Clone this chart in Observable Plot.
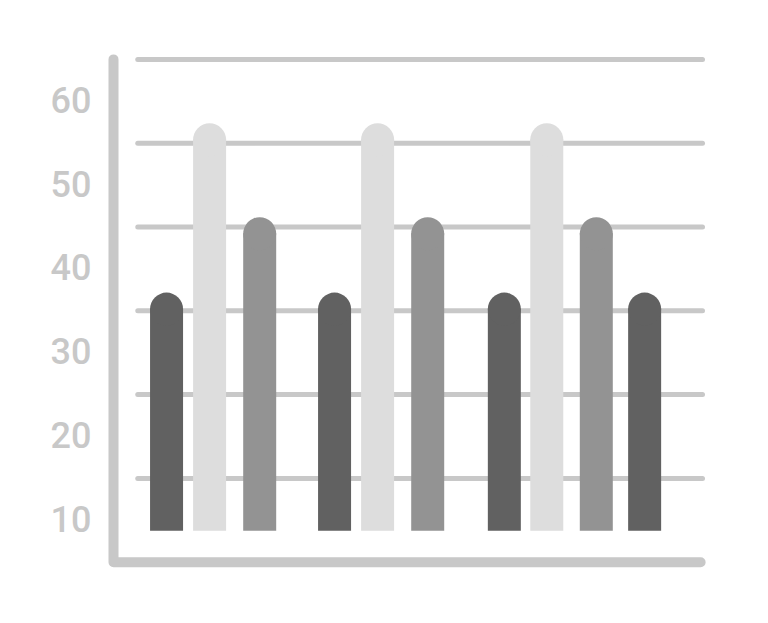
<!DOCTYPE html>
<html>
<head>
<meta charset="utf-8">
<script src="https://cdn.jsdelivr.net/npm/d3@7"></script>
<script src="https://cdn.jsdelivr.net/npm/@observablehq/plot@0.6"></script>
<style>
  html, body { margin: 0; padding: 0; background: #ffffff; }
  #chart svg { display: block; }
</style>
</head>
<body>
<div id="chart"></div>
<script>
// ---- data ----
const barSeries = ["A", "B", "C", "A", "B", "C", "A", "B", "C", "A"];
const barSlot   = [9.0, 16.3, 24.8, 37.5, 44.8, 53.3, 66.3, 73.5, 81.9, 90.1];
const barValue  = [35.2, 55.4, 44.2, 35.2, 55.4, 44.2, 35.2, 55.4, 44.2, 35.2];
const barBase   = 8.7;
const yTickLabels = [10, 20, 30, 40, 50, 60];
const gridValues  = [15, 25, 35, 45, 55, 65];
const xStart = 0, xGridStart = 4.2, xAxisEnd = 99.6, xGridEnd = 100;
const yMin = 5, yMax = 65;
const seriesColors = {A: "#616161", B: "#dddddd", C: "#939393"};

const bars = barSeries.map((s, i) => ({series: s, slot: barSlot[i], value: barValue[i]}));
const axisPath = [
  {x: xStart, y: yMax},
  {x: xStart, y: yMin},
  {x: xAxisEnd, y: yMin}
];

const grey = "#c8c8c8";

const plot = Plot.plot({
  width: 768,
  height: 623,
  marginLeft: 113,
  marginRight: 65.5,
  marginTop: 58.9,
  marginBottom: 61.3,
  x: {domain: [0, 100], axis: null},
  y: {domain: [yMin, yMax], axis: null},
  style: {background: "#ffffff", fontFamily: "Roboto, 'Open Sans', sans-serif"},
  marks: [
    Plot.ruleY(gridValues, {x1: xGridStart, x2: xGridEnd, stroke: grey, strokeWidth: 5, strokeLinecap: "round"}),
    Plot.line(axisPath, {x: "x", y: "y", stroke: grey, strokeWidth: 10, strokeLinecap: "round", strokeLinejoin: "round"}),
    Plot.ruleX(bars, {x: "slot", y1: barBase, y2: "value", stroke: d => seriesColors[d.series], strokeWidth: 33}),
    Plot.dot(bars, {x: "slot", y: "value", r: 16.5, fill: d => seriesColors[d.series], stroke: null}),
    Plot.text(yTickLabels, {x: xStart, y: d => d, text: d => String(d), textAnchor: "end", dx: -22, fontSize: 36, fontWeight: 500, fill: grey})
  ]
});
document.getElementById("chart").appendChild(plot);
</script>
</body>
</html>
